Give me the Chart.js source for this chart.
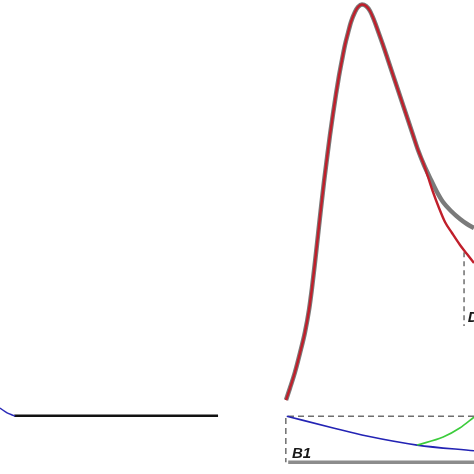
<!DOCTYPE html>
<html>
<head>
<meta charset="utf-8">
<script src="https://cdn.jsdelivr.net/npm/chart.js@4"></script>
<style>
  html, body { margin: 0; padding: 0; background: #fff; }
  #wrap { width: 474px; height: 474px; }
</style>
</head>
<body>
<div id="wrap"><canvas id="traceChart" width="474" height="474"></canvas></div>
<script>
// values in % of the figure frame (x: left->right, y: bottom->top)
const peakX = [60.34, 61.18, 62.24, 63.29, 64.35, 65.19, 65.82, 66.46, 67.09, 67.72, 68.35, 68.99,
  69.62, 70.25, 70.89, 71.52, 72.15, 72.78, 73.42, 74.05, 74.89, 75.53, 76.37, 77.22, 78.06, 78.90,
  79.75, 80.80, 81.86, 82.91, 83.97, 85.02, 86.08, 87.13, 88.19, 89.45];
const peakY = [15.61, 18.14, 21.52, 25.53, 29.96, 34.60, 39.24, 44.73, 50.42, 56.12, 61.60, 66.67,
  71.52, 75.95, 80.17, 83.97, 87.34, 90.51, 93.04, 95.36, 97.47, 98.52, 99.05, 98.73, 97.68, 95.78,
  93.46, 90.51, 87.34, 84.18, 81.01, 77.85, 74.68, 71.52, 68.35, 65.19];

const grayTailX = [90.93, 92.19, 93.46, 95.15, 97.05, 98.52, 100];
const grayTailY = [62.03, 59.49, 57.38, 55.49, 53.80, 52.74, 51.90];

const redTailX = [90.30, 91.35, 92.62, 93.88, 95.36, 97.05, 98.52, 100];
const redTailY = [62.66, 59.49, 56.12, 53.16, 50.84, 48.31, 46.41, 44.51];

const blueX = [60.5, 70.3, 77.4, 88.0, 100];
const blueY = [12.2, 9.7, 8.0, 6.1, 4.9];

const greenX = [88.0, 93.5, 97.0, 100];
const greenY = [6.1, 7.8, 9.7, 12.0];

const leftBaseX = [3.0, 46.0];
const leftBaseY = [12.3, 12.3];

const wiggleX = [0, 1.5, 2.7, 3.2];
const wiggleY = [13.9, 12.9, 12.4, 12.2];

const bottomBaseX = [60.8, 100];
const bottomBaseY = [2.5, 2.5];

const boxB1X = [100, 60.3, 60.3];
const boxB1Y = [12.2, 12.2, 2.5];

const boxDX = [97.9, 97.9];
const boxDY = [46.8, 31.2];

const labels = ["B1", "D"];
const labelX = [61.6, 98.7];
const labelY = [4.2, 33.0];

function toPoints(xs, ys) {
  return xs.map((x, i) => ({ x: x, y: ys[i] }));
}

function line(xs, ys, color, width, extra) {
  return Object.assign({
    data: toPoints(xs, ys),
    borderColor: color,
    borderWidth: width,
    pointRadius: 0,
    fill: false,
    cubicInterpolationMode: "monotone",
  }, extra || {});
}

const labelPlugin = {
  id: "panelLabels",
  afterDatasetsDraw(chart) {
    const ctx = chart.ctx;
    const xs = chart.scales.x;
    const ys = chart.scales.y;
    ctx.save();
    ctx.font = "italic bold 15px 'Liberation Sans', Arial, sans-serif";
    ctx.fillStyle = "#1a1a1a";
    ctx.textBaseline = "middle";
    labels.forEach((t, i) => {
      ctx.fillText(t, xs.getPixelForValue(labelX[i]), ys.getPixelForValue(labelY[i]));
    });
    ctx.restore();
  },
};

const ctx = document.getElementById("traceChart").getContext("2d");

// first dataset in the list is drawn on top
new Chart(ctx, {
  type: "line",
  data: {
    datasets: [
      line(wiggleX, wiggleY, "#2a2ab8", 1.5),
      line(leftBaseX, leftBaseY, "#111111", 2.6, { cubicInterpolationMode: "default", tension: 0 }),
      line(greenX, greenY, "#3ccc3c", 1.6),
      line(blueX, blueY, "#2323b4", 1.6),
      line(bottomBaseX, bottomBaseY, "#8c8c8c", 3.5, { cubicInterpolationMode: "default", tension: 0 }),
      line(peakX.concat(redTailX), peakY.concat(redTailY), "#c01f2b", 2.4),
      line(peakX.concat(grayTailX), peakY.concat(grayTailY), "#7a7a7a", 4.5),
      line(boxDX, boxDY, "#6e6e6e", 1.5, { borderDash: [5, 4], cubicInterpolationMode: "default", tension: 0 }),
      line(boxB1X, boxB1Y, "#6e6e6e", 1.5, { borderDash: [6, 4], cubicInterpolationMode: "default", tension: 0 }),
    ],
  },
  options: {
    responsive: false,
    animation: false,
    layout: { padding: 0 },
    plugins: {
      legend: { display: false },
      tooltip: { enabled: false },
    },
    scales: {
      x: { type: "linear", min: 0, max: 100, display: false },
      y: { type: "linear", min: 0, max: 100, display: false },
    },
  },
  plugins: [labelPlugin],
});
</script>
</body>
</html>
